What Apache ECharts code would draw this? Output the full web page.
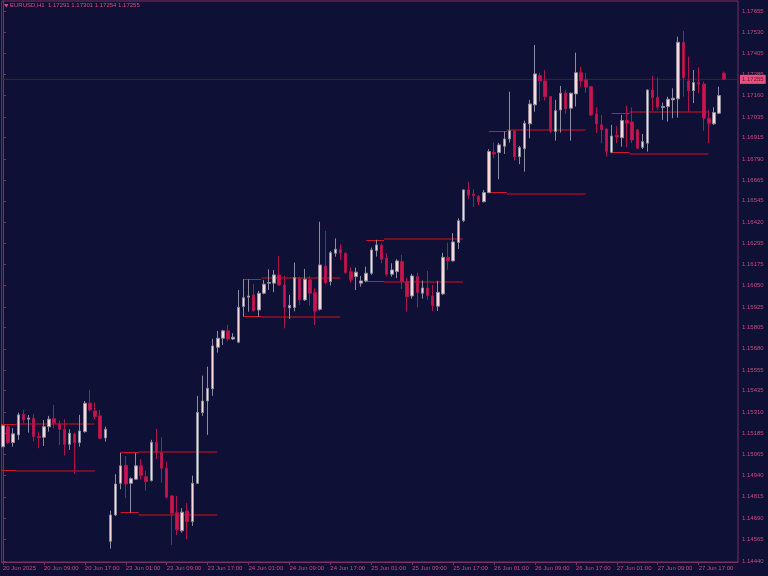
<!DOCTYPE html>
<html><head><meta charset="utf-8">
<script src="https://cdn.jsdelivr.net/npm/echarts@6/dist/echarts.min.js"></script>
<style>html,body{margin:0;padding:0;background:#0e1036;}#c{width:768px;height:576px;}</style>
</head><body><div id="c"></div>
<script>
const symbolName = 'EURUSD,H1';
const lastQuote = [1.17291, 1.17301, 1.17254, 1.17255];
const bidPrice = 1.17255;

const openP = [
1.15108,1.15225,1.15132,1.15177,1.15298,1.15269,1.15274,1.15167,1.15163,1.15225,
1.15272,1.15241,1.15210,1.15122,1.15183,1.15132,1.15196,1.15362,1.15317,1.15288,
1.15159,1.14555,1.14709,1.14894,1.14999,1.14894,1.14918,1.14996,1.14933,1.14910,
1.15134,1.15073,1.14982,1.14820,1.14722,1.14617,1.14732,1.14670,1.14894,1.15307,
1.15375,1.15446,1.15689,1.15742,1.15785,1.15737,1.15719,1.15927,1.15982,1.15995,
1.15907,1.16005,1.16064,1.16064,1.16112,1.16053,1.15919,1.15921,1.16093,1.15966,
1.16083,1.16009,1.15911,1.16164,1.16073,1.16239,1.16262,1.16239,1.16131,1.16102,
1.16064,1.16077,1.16122,1.16254,1.16287,1.16210,1.16116,1.16131,1.16190,1.16073,
1.15989,1.16102,1.16005,1.16036,1.15989,1.15929,1.16001,1.16215,1.16194,1.16302,
1.16429,1.16609,1.16585,1.16570,1.16540,1.16593,1.16829,1.16827,1.16864,1.16907,
1.16954,1.16803,1.16850,1.16995,1.17106,1.17277,1.17246,1.17154,1.16950,1.17076,
1.17174,1.17086,1.17170,1.17294,1.17252,1.17212,1.17053,1.16989,1.16965,1.16829,
1.16928,1.16914,1.17014,1.17006,1.16960,1.16858,1.16882,1.17193,1.17150,1.17090,
1.17096,1.17135,1.17141,1.17472,1.17246,1.17189,1.17238,1.17228,1.17028,1.16995,
1.17057,1.17291];
const highP = [
1.15235,1.15235,1.15216,1.15307,1.15323,1.15293,1.15298,1.15196,1.15264,1.15288,
1.15352,1.15260,1.15269,1.15210,1.15190,1.15294,1.15375,1.15440,1.15368,1.15323,
1.15225,1.14734,1.14947,1.15073,1.15054,1.14929,1.15070,1.15035,1.14967,1.15148,
1.15212,1.15163,1.15021,1.14826,1.14820,1.14748,1.14778,1.14939,1.15405,1.15523,
1.15576,1.15738,1.15785,1.15791,1.15820,1.15771,1.16024,1.16087,1.16085,1.16058,
1.16019,1.16083,1.16145,1.16141,1.16223,1.16106,1.15995,1.16184,1.16102,1.16147,
1.16106,1.16034,1.16423,1.16369,1.16252,1.16326,1.16291,1.16242,1.16157,1.16155,
1.16106,1.16160,1.16272,1.16317,1.16297,1.16239,1.16180,1.16204,1.16229,1.16096,
1.16118,1.16125,1.16080,1.16135,1.16053,1.16077,1.16241,1.16301,1.16356,1.16443,
1.16612,1.16657,1.16613,1.16579,1.16609,1.16847,1.16885,1.16884,1.16950,1.17183,
1.16960,1.16866,1.17014,1.17135,1.17456,1.17294,1.17310,1.17158,1.17135,1.17217,
1.17193,1.17177,1.17411,1.17329,1.17294,1.17217,1.17092,1.17047,1.16969,1.16989,
1.16983,1.17047,1.17100,1.17092,1.16964,1.16936,1.17195,1.17275,1.17267,1.17119,
1.17154,1.17203,1.17505,1.17538,1.17388,1.17310,1.17326,1.17242,1.17076,1.17092,
1.17212,1.17301];
const lowP = [
1.15105,1.15124,1.15108,1.15148,1.15245,1.15190,1.15138,1.15099,1.15112,1.15196,
1.15216,1.15118,1.15056,1.15089,1.14949,1.15108,1.15190,1.15313,1.15269,1.15152,
1.15138,1.14512,1.14703,1.14859,1.14807,1.14722,1.14914,1.14914,1.14851,1.14904,
1.15035,1.14898,1.14807,1.14534,1.14592,1.14606,1.14567,1.14645,1.14890,1.15288,
1.15177,1.15405,1.15658,1.15703,1.15726,1.15732,1.15713,1.15868,1.15897,1.15897,
1.15868,1.15999,1.16024,1.16011,1.16048,1.15800,1.15855,1.15899,1.15937,1.15960,
1.15933,1.15819,1.15903,1.16059,1.16050,1.16219,1.16200,1.16118,1.16067,1.16024,
1.16043,1.16069,1.16112,1.16219,1.16180,1.16102,1.16102,1.16093,1.16030,1.15897,
1.15973,1.15921,1.15973,1.15966,1.15901,1.15901,1.15995,1.16142,1.16190,1.16264,
1.16420,1.16556,1.16508,1.16521,1.16535,1.16589,1.16794,1.16671,1.16819,1.16885,
1.16780,1.16759,1.16716,1.16911,1.17066,1.17125,1.17131,1.16940,1.16897,1.16944,
1.17053,1.16897,1.17096,1.17212,1.17177,1.17041,1.16940,1.16882,1.16803,1.16823,
1.16882,1.16862,1.16858,1.16882,1.16847,1.16848,1.16833,1.17070,1.17076,1.17018,
1.17008,1.17028,1.17031,1.17154,1.17066,1.17116,1.17174,1.16955,1.16882,1.16989,
1.17053,1.17254];
const closeP = [
1.15231,1.15132,1.15183,1.15294,1.15264,1.15276,1.15167,1.15161,1.15225,1.15269,
1.15245,1.15210,1.15122,1.15187,1.15132,1.15200,1.15362,1.15323,1.15284,1.15157,
1.15210,1.14709,1.14890,1.14996,1.14890,1.14921,1.14996,1.14939,1.14904,1.15134,
1.15073,1.14982,1.14813,1.14719,1.14622,1.14725,1.14670,1.14894,1.15309,1.15375,
1.15450,1.15697,1.15742,1.15785,1.15737,1.15748,1.15923,1.15979,1.15989,1.15903,
1.16005,1.16058,1.16067,1.16112,1.16053,1.15923,1.15934,1.16096,1.15966,1.16087,
1.16005,1.15899,1.16170,1.16067,1.16242,1.16262,1.16239,1.16125,1.16083,1.16128,
1.16077,1.16122,1.16258,1.16287,1.16204,1.16116,1.16141,1.16194,1.16073,1.15985,
1.16106,1.16009,1.16036,1.15991,1.15934,1.16010,1.16215,1.16194,1.16305,1.16429,
1.16609,1.16578,1.16575,1.16540,1.16593,1.16833,1.16819,1.16872,1.16907,1.16954,
1.16803,1.16856,1.16999,1.17111,1.17287,1.17246,1.17154,1.16950,1.17072,1.17174,
1.17082,1.17174,1.17294,1.17246,1.17209,1.17047,1.16995,1.16960,1.16833,1.16924,
1.16918,1.17014,1.16999,1.16901,1.16852,1.16891,1.17193,1.17148,1.17092,1.17096,
1.17139,1.17145,1.17472,1.17265,1.17189,1.17236,1.17227,1.17028,1.16999,1.17061,
1.17160,1.17255];

const timeTickBars = [0,8,16,24,32,40,48,56,64,72,80,88,96,104,112,120,128,136];
const timeTickLabels = ['20 Jun 2025','20 Jun 09:00','20 Jun 17:00','23 Jun 01:00','23 Jun 09:00',
  '23 Jun 17:00','24 Jun 01:00','24 Jun 09:00','24 Jun 17:00','25 Jun 01:00','25 Jun 09:00',
  '25 Jun 17:00','26 Jun 01:00','26 Jun 09:00','26 Jun 17:00','27 Jun 01:00','27 Jun 09:00','27 Jun 17:00'];
const priceTicks = [1.17655,1.17530,1.17405,1.17285,1.17160,1.17035,1.16915,1.16790,1.16665,
  1.16545,1.16420,1.16295,1.16175,1.16050,1.15925,1.15805,1.15680,1.15555,1.15435,1.15310,
  1.15185,1.15065,1.14940,1.14815,1.14690,1.14565,1.14440];

// daily level lines (bar positions and prices)
const levelFrom  = [-1, 23, 47, 71, 95, 119];
const levelSplit = [2.5, 26.5, 50.5, 74.5, 98.5, 122.5];
const levelTo    = [17.9, 41.9, 65.9, 89.9, 113.9, 137.9];
const firstHigh  = [1.15239, 1.15076, 1.16087, 1.16315, 1.16954, 1.17057];
const firstLow   = [1.14970, 1.14723, 1.15868, 1.16077, 1.16593, 1.16827];
const rangeHigh  = [1.15243, 1.15076, 1.16093, 1.16322, 1.16959, 1.17063];
const rangeLow   = [1.14965, 1.14713, 1.15865, 1.16073, 1.16589, 1.16823];

const xMin = -0.254, xMax = 143.69;
const frameColor = '#7c2f5e';
const textColor = '#c9487a';

const candles = openP.map((o, i) => [i, o, closeP[i], lowP[i], highP[i]]);
const shortSegs = [], mainSegs = [];
levelFrom.forEach((s, k) => {
  shortSegs.push({coords: [[s, firstHigh[k]], [levelSplit[k], firstHigh[k]]]});
  shortSegs.push({coords: [[s, firstLow[k]], [levelSplit[k], firstLow[k]]]});
  mainSegs.push({coords: [[levelSplit[k], rangeHigh[k]], [levelTo[k], rangeHigh[k]]]});
  mainSegs.push({coords: [[levelSplit[k], rangeLow[k]], [levelTo[k], rangeLow[k]]]});
});

const chart = echarts.init(document.getElementById('c'), null, {renderer: 'canvas'});
chart.setOption({
  backgroundColor: '#0e1036',
  animation: false,
  title: {
    text: symbolName + '  ' + lastQuote.map(v => v.toFixed(5)).join(' '),
    left: 10, top: 2, padding: 0,
    textStyle: {color: '#e04b7b', fontSize: 6, fontWeight: 'normal', fontFamily: 'Liberation Sans'}
  },
  graphic: [{type: 'polygon', shape: {points: [[4, 4], [8.5, 4], [6.25, 7.5]]}, style: {fill: '#e04b7b'}}],
  grid: {left: 1, right: 30, top: 1, bottom: 14, show: true, borderColor: frameColor, borderWidth: 1, backgroundColor: 'transparent'},
  xAxis: {
    type: 'value', min: xMin, max: xMax,
    axisLine: {show: true, lineStyle: {color: frameColor}},
    axisTick: {show: true, length: 3, customValues: timeTickBars, lineStyle: {color: frameColor}},
    axisLabel: {customValues: timeTickBars, align: 'left', margin: 3, color: textColor, fontSize: 6,
      fontFamily: 'Liberation Sans', formatter: v => timeTickLabels[timeTickBars.indexOf(Math.round(v))] || ''},
    splitLine: {show: false}
  },
  yAxis: {
    type: 'value', position: 'right', min: 1.14434, max: 1.17713, scale: true,
    axisLine: {show: true, lineStyle: {color: frameColor}},
    axisTick: {show: true, length: 3, customValues: priceTicks, lineStyle: {color: frameColor}},
    axisLabel: {customValues: priceTicks, margin: 4, color: textColor, fontSize: 6,
      fontFamily: 'Liberation Sans', formatter: v => v.toFixed(5)},
    splitLine: {show: false}
  },
  series: [
    {
      type: 'line', silent: true, z: 0, symbol: 'none', showSymbol: false,
      data: [[xMin, bidPrice], [xMax, bidPrice]],
      lineStyle: {color: '#2e2d3c', width: 1},
      endLabel: {show: true, distance: 2, formatter: () => bidPrice.toFixed(5),
        backgroundColor: '#e8517f', color: '#6a0f2c', fontSize: 6, fontFamily: 'Liberation Sans', padding: [2, 2, 1, 2]}
    },
    {
      type: 'lines', coordinateSystem: 'cartesian2d', silent: true, z: 1,
      lineStyle: {color: '#951126', width: 1.6, opacity: 1},
      data: mainSegs
    },
    {
      type: 'lines', coordinateSystem: 'cartesian2d', silent: true, z: 1,
      lineStyle: {color: '#d3142e', width: 1, opacity: 1},
      data: shortSegs
    },
    {
      type: 'candlestick', barWidth: 3, z: 3,
      itemStyle: {color: '#fcd9d9', color0: '#c8144f', borderColor: '#8d8c9c', borderColor0: '#b0124a', borderWidth: 1},
      data: candles
    }
  ]
});
</script>
</body></html>
